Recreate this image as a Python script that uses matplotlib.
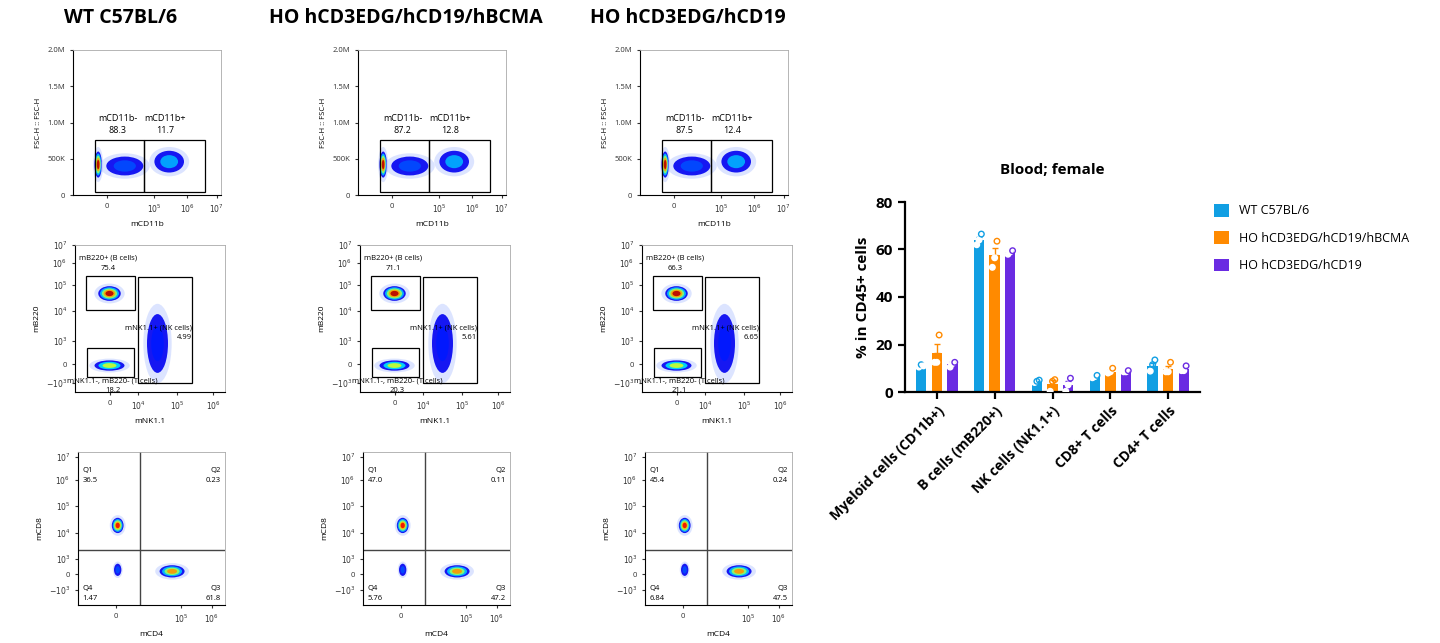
import numpy as np
import matplotlib.pyplot as plt
from matplotlib.patches import Ellipse, Rectangle

plt.rcParams['font.family'] = ['Open Sans', 'DejaVu Sans']

# ---- data ----
strains = ['WT C57BL/6', 'HO hCD3EDG/hCD19/hBCMA', 'HO hCD3EDG/hCD19']
cd11b_neg = ['88.3', '87.2', '87.5']
cd11b_pos = ['11.7', '12.8', '12.4']
b_cells = ['75.4', '71.1', '66.3']
nk_cells = ['4.99', '5.61', '6.65']
t_cells = ['18.2', '20.3', '21.1']
q1 = ['36.5', '47.0', '45.4']
q2 = ['0.23', '0.11', '0.24']
q3 = ['61.8', '47.2', '47.5']
q4 = ['1.47', '5.76', '6.84']

categories = ['Myeloid cells (CD11b+)', 'B cells (mB220+)', 'NK cells (NK1.1+)',
              'CD8+ T cells', 'CD4+ T cells']
means_wt = [11, 64, 4.3, 6.5, 11]
means_bcma = [16.5, 57.5, 3.3, 8.5, 9.5]
means_cd19 = [12, 59, 3.0, 8.5, 9.5]
sem_wt = [0.5, 1.3, 0.3, 0.3, 1.4]
sem_bcma = [3.8, 3.2, 1.6, 0.6, 1.3]
sem_cd19 = [0.6, 0.4, 1.6, 0.2, 0.7]
pts_wt = [[10.5, 11.5, 11], [62, 64, 66.5], [4, 4.5, 5], [6, 6.5, 7], [8.8, 11.5, 13.5]]
pts_bcma = [[12.5, 12.5, 24], [52.5, 56.5, 63.5], [0.3, 4.5, 5.2], [8, 8.5, 10], [8.5, 8.5, 12.5]]
pts_cd19 = [[10.5, 12, 12.5], [58, 59, 59.5], [0.3, 3, 5.8], [8.5, 8.5, 9], [9, 9, 11]]
colors = ['#119FE3', '#FF8A00', '#6A2BE2']

# cell populations drawn as density blobs: (x, y, width, height, peak level) in display units 0..1
blobs_row1 = [(0.17, 0.21, 0.05, 0.18, 0.95), (0.35, 0.2, 0.25, 0.13, 0.2), (0.65, 0.23, 0.2, 0.15, 0.3)]
blobs_row2 = [(0.23, 0.67, 0.15, 0.1, 0.95), (0.23, 0.18, 0.2, 0.07, 0.6), (0.55, 0.33, 0.14, 0.4, 0.15)]
blobs_row3 = [(0.27, 0.52, 0.08, 0.1, 0.9), (0.64, 0.22, 0.17, 0.08, 0.75), (0.27, 0.23, 0.05, 0.08, 0.2)]

fig = plt.figure(figsize=(14.4, 6.43), dpi=100)
W, H = 1440, 643


def ax_px(x0, y0, x1, y1):
    return fig.add_axes([x0 / W, 1 - y1 / H, (x1 - x0) / W, (y1 - y0) / H])


jet = plt.get_cmap('jet')


def draw_blob(ax, b):
    x, y, w, h, peak = b
    ax.add_patch(Ellipse((x, y), w * 1.35, h * 1.35, color='#9db4ff', alpha=0.35, lw=0))
    levels = np.linspace(0.1, peak, max(2, int(peak * 6)))
    for i, lv in enumerate(levels):
        s = 1 - 0.8 * i / len(levels)
        ax.add_patch(Ellipse((x, y), w * s, h * s, color=jet(lv), lw=0, alpha=0.9))


def style_flow(ax):
    ax.set_xlim(0, 1)
    ax.set_ylim(0, 1)
    for s in ['top', 'right']:
        ax.spines[s].set_color('#aaaaaa')
        ax.spines[s].set_linewidth(0.6)
    ax.tick_params(labelsize=5.5, length=2, width=0.8, colors='#333333')


col_x = [53, 338, 620]
for c in range(3):
    x0 = col_x[c]
    fig.text((x0 + 68) / W, 1 - 18 / H, strains[c], ha='center', va='center',
             fontsize=14, fontweight='bold')

    # row 1: CD11b
    ax = ax_px(x0 + 20, 50, x0 + 168, 195)
    style_flow(ax)
    for b in blobs_row1:
        draw_blob(ax, b)
    ax.add_patch(Rectangle((0.15, 0.02), 0.33, 0.36, fill=False, lw=0.9))
    ax.add_patch(Rectangle((0.48, 0.02), 0.41, 0.36, fill=False, lw=0.9))
    ax.text(0.3, 0.43, 'mCD11b-\n' + cd11b_neg[c], ha='center', fontsize=6.5, linespacing=1.4)
    ax.text(0.62, 0.43, 'mCD11b+\n' + cd11b_pos[c], ha='center', fontsize=6.5, linespacing=1.4)
    ax.set_yticks([0, 0.25, 0.5, 0.75, 1.0], ['0', '500K', '1.0M', '1.5M', '2.0M'])
    ax.set_xticks([0.23, 0.55, 0.77, 0.97], ['0', r'$10^5$', r'$10^6$', r'$10^7$'])
    ax.set_ylabel('FSC-H :: FSC-H', fontsize=5.5)
    ax.set_xlabel('mCD11b', fontsize=6)

    # row 2: NK1.1 vs B220
    ax = ax_px(x0 + 22, 245, x0 + 172, 392)
    style_flow(ax)
    for b in blobs_row2:
        draw_blob(ax, b)
    ax.add_patch(Rectangle((0.07, 0.56), 0.33, 0.23, fill=False, lw=0.9))
    ax.add_patch(Rectangle((0.08, 0.1), 0.31, 0.2, fill=False, lw=0.9))
    ax.add_patch(Rectangle((0.42, 0.06), 0.36, 0.72, fill=False, lw=0.9))
    ax.text(0.22, 0.83, 'mB220+ (B cells)\n' + b_cells[c], ha='center', fontsize=5.5, linespacing=1.6)
    ax.text(0.25, 0.0, 'mNK1.1-, mB220- (T cells)\n' + t_cells[c], ha='center', fontsize=5.5, linespacing=1.6)
    ax.text(0.78, 0.36, 'mNK1.1+ (NK cells)\n' + nk_cells[c], ha='right', fontsize=5.5, linespacing=1.6)
    ax.set_yticks([0.06, 0.19, 0.35, 0.55, 0.73, 0.88, 1.0],
                  [r'$-10^3$', '0', r'$10^3$', r'$10^4$', r'$10^5$', r'$10^6$', r'$10^7$'])
    ax.set_xticks([0.23, 0.42, 0.68, 0.92], ['0', r'$10^4$', r'$10^5$', r'$10^6$'])
    ax.set_ylabel('mB220', fontsize=6)
    ax.set_xlabel('mNK1.1', fontsize=6)

    # row 3: CD4 vs CD8
    ax = ax_px(x0 + 25, 452, x0 + 172, 605)
    style_flow(ax)
    for b in blobs_row3:
        draw_blob(ax, b)
    ax.axvline(0.42, color='#444444', lw=1)
    ax.axhline(0.36, color='#444444', lw=1)
    ax.text(0.03, 0.9, 'Q1\n' + q1[c], fontsize=5.5, va='top', linespacing=1.6)
    ax.text(0.97, 0.9, 'Q2\n' + q2[c], fontsize=5.5, va='top', ha='right', linespacing=1.6)
    ax.text(0.97, 0.03, 'Q3\n' + q3[c], fontsize=5.5, ha='right', linespacing=1.6)
    ax.text(0.03, 0.03, 'Q4\n' + q4[c], fontsize=5.5, linespacing=1.6)
    ax.set_yticks([0.1, 0.2, 0.3, 0.47, 0.65, 0.82, 0.97],
                  [r'$-10^3$', '0', r'$10^3$', r'$10^4$', r'$10^5$', r'$10^6$', r'$10^7$'])
    ax.set_xticks([0.26, 0.7, 0.91], ['0', r'$10^5$', r'$10^6$'])
    ax.set_ylabel('mCD8', fontsize=6)
    ax.set_xlabel('mCD4', fontsize=6)

# ---- bar chart ----
ax = ax_px(905, 202, 1200, 392)
x = np.arange(len(categories))
bw = 0.18
series = [(means_wt, sem_wt, pts_wt), (means_bcma, sem_bcma, pts_bcma), (means_cd19, sem_cd19, pts_cd19)]
for k, (m, e, p) in enumerate(series):
    xs = x + (k - 1) * 0.27
    ax.bar(xs, m, bw, color=colors[k], label=strains[k], zorder=2)
    ax.errorbar(xs, m, yerr=[np.zeros(len(m)), e], fmt='none', ecolor=colors[k],
                capsize=2.5, lw=1.0, zorder=1)
    for i in range(len(categories)):
        offs = np.array([-0.04, 0.0, 0.04])
        vals = np.array(p[i])
        inside = vals <= m[i]
        ax.scatter(xs[i] + offs, vals, s=16, facecolors=np.where(inside, 'white', 'none'),
                   edgecolors=np.where(inside, 'white', colors[k]), lw=1.0, zorder=3)
ax.set_ylim(0, 80)
ax.set_xlim(-0.55, 4.55)
ax.set_yticks([0, 20, 40, 60, 80])
ax.set_xticks(x, categories, rotation=45, ha='right', rotation_mode='anchor',
              fontsize=10, fontweight='bold')
ax.tick_params(axis='y', labelsize=11, width=1.6, length=5)
ax.tick_params(axis='x', width=1.6, length=5)
for lab in ax.get_yticklabels():
    lab.set_fontweight('bold')
for s in ['top', 'right']:
    ax.spines[s].set_visible(False)
for s in ['left', 'bottom']:
    ax.spines[s].set_linewidth(1.6)
ax.set_ylabel('% in CD45+ cells', fontsize=11, fontweight='bold')
ax.set_title('Blood; female', fontsize=11, fontweight='bold', pad=20)
ax.legend(loc='upper left', bbox_to_anchor=(1.01, 1.05), frameon=False, fontsize=9,
          handlelength=1.2, handleheight=1.2, labelspacing=1.1)

fig.savefig('out.png', dpi=100)
